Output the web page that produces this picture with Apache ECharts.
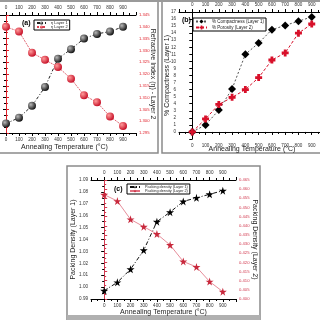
<!DOCTYPE html>
<html>
<head>
<meta charset="utf-8">
<script src="https://cdn.jsdelivr.net/npm/echarts@6/dist/echarts.min.js"></script>
<style>
  html, body { margin: 0; padding: 0; background: #fff; }
  #chart { width: 320px; height: 320px; }
</style>
</head>
<body>
<div id="chart"></div>
<script>
// annealing temperatures shared by the three panels
const tempC = [0, 100, 200, 300, 400, 500, 600, 700, 800, 900];

// (a) refractive index
const riLayer1 = [1.408, 1.413, 1.423, 1.439, 1.463, 1.471, 1.480, 1.484, 1.486, 1.490];
const riLayer2 = [1.340, 1.338, 1.329, 1.326, 1.323, 1.318, 1.311, 1.308, 1.302, 1.298];

// (b) compactness / porosity in %
const compactness = [0, 1.0, 3.1, 6.1, 11.0, 12.6, 14.5, 15.1, 15.7, 16.3];
const porosity = [0, 1.85, 3.9, 4.9, 6.0, 7.7, 10.2, 11.2, 14.0, 15.3];

// (c) packing density
const packing1 = [0.997, 1.004, 1.015, 1.031, 1.055, 1.063, 1.072, 1.075, 1.078, 1.081];
const packing2 = [0.457, 0.4535, 0.4435, 0.4395, 0.4355, 0.4295, 0.4205, 0.4175, 0.4095, 0.404];

const FONT = 'Liberation Sans';
const STAR = 'path://M50,0 L61,35 L98,35 L68,57 L79,91 L50,70 L21,91 L32,57 L2,35 L39,35 Z';
const PLUS = 'path://M3,0 L7,0 L7,3 L10,3 L10,7 L7,7 L7,10 L3,10 L3,7 L0,7 L0,3 L3,3 Z';

function pairs(arr) {
    return tempC.map((t, i) => [t, arr[i]]);
}

function sphere(light, dark) {
    return {
        type: 'radial', x: 0.35, y: 0.35, r: 0.75,
        colorStops: [{ offset: 0, color: light }, { offset: 1, color: dark }]
    };
}

function tempAxis(gridIndex, position, name, nameGap) {
    return {
        type: 'value', gridIndex: gridIndex, position: position,
        min: -100, max: 1000, interval: 100,
        name: name, nameLocation: 'middle', nameGap: nameGap, nameMoveOverlap: false,
        nameTextStyle: { fontSize: 7, color: '#222', fontFamily: FONT },
        axisLine: { show: true, lineStyle: { color: '#000', width: 1 } },
        axisTick: { show: true, length: 3, lineStyle: { color: '#000' } },
        minorTick: { show: true, splitNumber: 2, length: 2, lineStyle: { color: '#000' } },
        splitLine: { show: false },
        axisLabel: {
            fontSize: 4.6, color: '#333', fontFamily: FONT,
            margin: position === 'top' ? 5 : 4,
            formatter: v => (v < 0 || v > 900) ? '' : String(v)
        }
    };
}

function valAxis(opt) {
    const color = opt.color || '#000';
    return {
        type: 'value', gridIndex: opt.grid, position: opt.position,
        min: opt.min, max: opt.max, interval: opt.interval,
        name: opt.name, nameLocation: 'middle', nameGap: opt.nameGap, nameMoveOverlap: false,
        nameRotate: opt.position === 'right' ? -90 : 90,
        nameTextStyle: { fontSize: 7, color: '#222', fontFamily: FONT },
        axisLine: { show: true, lineStyle: { color: color, width: 1 } },
        axisTick: { show: true, length: 3, lineStyle: { color: color } },
        minorTick: { show: opt.minor !== false, splitNumber: 2, length: 2, lineStyle: { color: color } },
        splitLine: { show: false },
        axisLabel: {
            show: opt.labels !== false,
            fontSize: opt.labelSize || 4.6, color: opt.labelColor || '#333', fontFamily: FONT, margin: 3,
            formatter: opt.formatter
        }
    };
}

const chart = echarts.init(document.getElementById('chart'), null, { renderer: 'canvas' });

const option = {
    animation: false,
    backgroundColor: '#fff',
    textStyle: { fontFamily: FONT },
    grid: [
        { left: -7, top: 15, width: 143, height: 118, outerBoundsMode: 'none', containLabel: false },
        { left: 179, top: 12, width: 146, height: 127, outerBoundsMode: 'none', containLabel: false },
        { left: 91, top: 180, width: 145, height: 119, outerBoundsMode: 'none', containLabel: false }
    ],
    xAxis: [
        tempAxis(0, 'bottom', 'Annealing Temperature (°C)', 10.5),
        tempAxis(0, 'top', '', 0),
        tempAxis(1, 'bottom', 'Annealing Temperature (°C)', 7),
        tempAxis(1, 'top', '', 0),
        tempAxis(2, 'bottom', 'Annealing Temperature (°C)', 9.5),
        tempAxis(2, 'top', '', 0)
    ],
    yAxis: [
        valAxis({ grid: 0, position: 'left', min: 1.40, max: 1.50, interval: 0.01, labels: false }),
        valAxis({
            grid: 0, position: 'right', min: 1.295, max: 1.345, interval: 0.005,
            color: '#e0202a', labelColor: '#e0202a', labelSize: 4.2,
            name: 'Refractive Index (η) - Layer 2', nameGap: 13,
            formatter: v => v.toFixed(3)
        }),
        valAxis({
            grid: 1, position: 'left', min: -1, max: 17, interval: 1, minor: false,
            name: '% Compactness (Layer 1)', nameGap: 8.5,
            formatter: v => v < 0 ? '' : String(Math.round(v))
        }),
        valAxis({
            grid: 2, position: 'left', min: 0.99, max: 1.09, interval: 0.01,
            name: 'Packing Density (Layer 1)', nameGap: 14.5,
            formatter: v => v.toFixed(2)
        }),
        valAxis({
            grid: 2, position: 'right', min: 0.400, max: 0.465, interval: 0.005,
            color: '#d23a50', labelColor: '#d23a50', labelSize: 4.2,
            name: 'Packing Density (Layer 2)', nameGap: 15,
            formatter: v => v.toFixed(3)
        })
    ],
    legend: [
        {
            data: ['η Layer 1', 'η Layer 2'],
            orient: 'vertical', left: 34, top: 20, padding: [1, 2], itemGap: 0,
            itemWidth: 9, itemHeight: 4, borderColor: '#000', borderWidth: 1,
            textStyle: { fontSize: 4, color: '#222' }, selectedMode: false
        },
        {
            data: ['% Compactness (Layer 1)', '% Porosity (Layer 2)'],
            orient: 'vertical', left: 193, top: 18, padding: [1, 2], itemGap: 1,
            itemWidth: 11, itemHeight: 5, borderColor: '#000', borderWidth: 1,
            textStyle: { fontSize: 4.5, color: '#222' }, selectedMode: false
        },
        {
            data: ['Packing density (Layer 1)', 'Packing density (Layer 2)'],
            orient: 'vertical', left: 127, top: 184, padding: [1, 2], itemGap: 0,
            itemWidth: 10, itemHeight: 4, borderColor: '#000', borderWidth: 1,
            textStyle: { fontSize: 3.8, color: '#222' }, selectedMode: false
        }
    ],
    graphic: [
        { type: 'rect', shape: { x: -5, y: 1, width: 163, height: 152 }, style: { fill: null, stroke: '#8a8a8a', lineWidth: 1.5 }, silent: true },
        { type: 'rect', shape: { x: 162, y: 1, width: 165, height: 152 }, style: { fill: null, stroke: '#8a8a8a', lineWidth: 1.5 }, silent: true },
        { type: 'rect', shape: { x: 67, y: 166, width: 193, height: 160 }, style: { fill: null, stroke: '#8a8a8a', lineWidth: 1.5 }, silent: true },
        { type: 'rect', shape: { x: 67, y: 315, width: 193, height: 6 }, style: { fill: '#b0b0b0' }, silent: true },
        { type: 'rect', shape: { x: -5, y: 0, width: 330, height: 2 }, style: { fill: '#9a9a9a' }, silent: true },
        { type: 'text', left: 22, top: 20, style: { text: '(a)', font: 'bold 7px ' + FONT, fill: '#000' } },
        { type: 'text', left: 182, top: 17, style: { text: '(b)', font: 'bold 7px ' + FONT, fill: '#000' } },
        { type: 'text', left: 114, top: 186, style: { text: '(c)', font: 'bold 7px ' + FONT, fill: '#000' } }
    ],
    series: [
        {
            name: 'η Layer 1', type: 'line', xAxisIndex: 0, yAxisIndex: 0,
            data: pairs(riLayer1), symbol: 'circle', symbolSize: 8,
            itemStyle: { color: sphere('#b8b8b8', '#000') },
            lineStyle: { color: '#222', width: 1, type: [3, 2, 1, 2] }
        },
        {
            name: 'η Layer 2', type: 'line', xAxisIndex: 0, yAxisIndex: 1,
            data: pairs(riLayer2), symbol: 'circle', symbolSize: 8,
            itemStyle: { color: sphere('#ff9a9a', '#c0001a') },
            lineStyle: { color: '#d84050', width: 0.8, type: [2, 1] }
        },
        {
            name: '% Compactness (Layer 1)', type: 'line', xAxisIndex: 2, yAxisIndex: 2,
            data: pairs(compactness), symbol: 'diamond', symbolSize: 8,
            itemStyle: { color: '#000' },
            lineStyle: { color: '#555', width: 1, type: [2, 2] }
        },
        {
            name: '% Porosity (Layer 2)', type: 'line', xAxisIndex: 2, yAxisIndex: 2,
            data: pairs(porosity), symbol: PLUS, symbolSize: 7,
            itemStyle: { color: '#d8102a' },
            lineStyle: { color: '#d8102a', width: 1, type: [3, 2] }
        },
        {
            name: 'Packing density (Layer 1)', type: 'line', xAxisIndex: 4, yAxisIndex: 3,
            data: pairs(packing1), symbol: STAR, symbolSize: 8,
            itemStyle: { color: '#000' },
            lineStyle: { color: '#111', width: 1, type: [4, 2, 1, 2] }
        },
        {
            name: 'Packing density (Layer 2)', type: 'line', xAxisIndex: 4, yAxisIndex: 4,
            data: pairs(packing2), symbol: STAR, symbolSize: 8,
            itemStyle: { color: '#c8283c' },
            lineStyle: { color: '#e07080', width: 0.8 }
        }
    ]
};

chart.setOption(option);
</script>
</body>
</html>
